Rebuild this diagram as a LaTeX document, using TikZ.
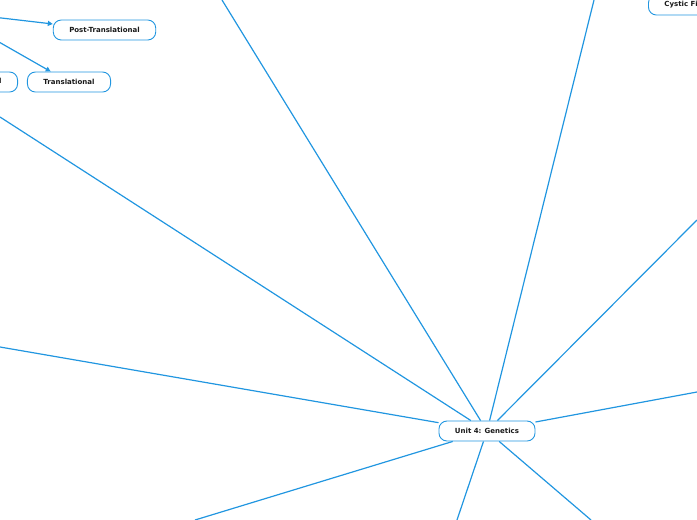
\documentclass[tikz,border=0pt]{standalone}
\usepackage{fontspec}
\setmainfont{DejaVu Sans}
\usetikzlibrary{arrows.meta}
\definecolor{mapblue}{RGB}{33,150,224}
\definecolor{txt}{RGB}{25,25,25}
\tikzset{
  topic/.style={draw=mapblue, line width=0.9pt, fill=white, rounded corners=8pt,
    minimum height=20pt, inner xsep=16pt, inner ysep=2pt, text=txt,
    font=\fontsize{7}{8}\selectfont\bfseries},
  link/.style={draw=mapblue, line width=1.2pt},
  arrowlink/.style={link, -{Triangle[length=5pt,width=5pt]}}
}
\begin{document}
\begin{tikzpicture}[x=1pt,y=-1pt]
\useasboundingbox (0,0) rectangle (697,520);
\clip (0,0) rectangle (697,520);
% nodes
\node[topic] (c) at (487,431) {Unit 4: Genetics};
\node[topic] (pt) at (104.5,30) {Post-Translational};
\node[topic] (tl) at (69,82) {Translational};
\node[topic, anchor=east] (tc) at (18,82) {Transcriptional};
\node[topic, anchor=west] (cf) at (648,5) {Cystic Fibrosis};
% off-picture ends
\coordinate (src) at (-54.5,11.5);
\coordinate (e1) at (0,117);
\coordinate (e2) at (222,0);
\coordinate (e3) at (594,0);
\coordinate (e4) at (697,220);
\coordinate (e5) at (697,392);
\coordinate (e6) at (0,347);
\coordinate (e7) at (195,520);
\coordinate (e8) at (457,520);
\coordinate (e9) at (591,520);
% connectors
\begin{scope}[on background layer/.style={}]
\foreach \e in {e1,e2,e3,e4,e5,e6,e7,e8,e9}
  \draw[link] (c) -- (\e);
\end{scope}
\draw[arrowlink] (src) -- (pt);
\draw[arrowlink] (src) -- (tl);
\end{tikzpicture}
\end{document}
